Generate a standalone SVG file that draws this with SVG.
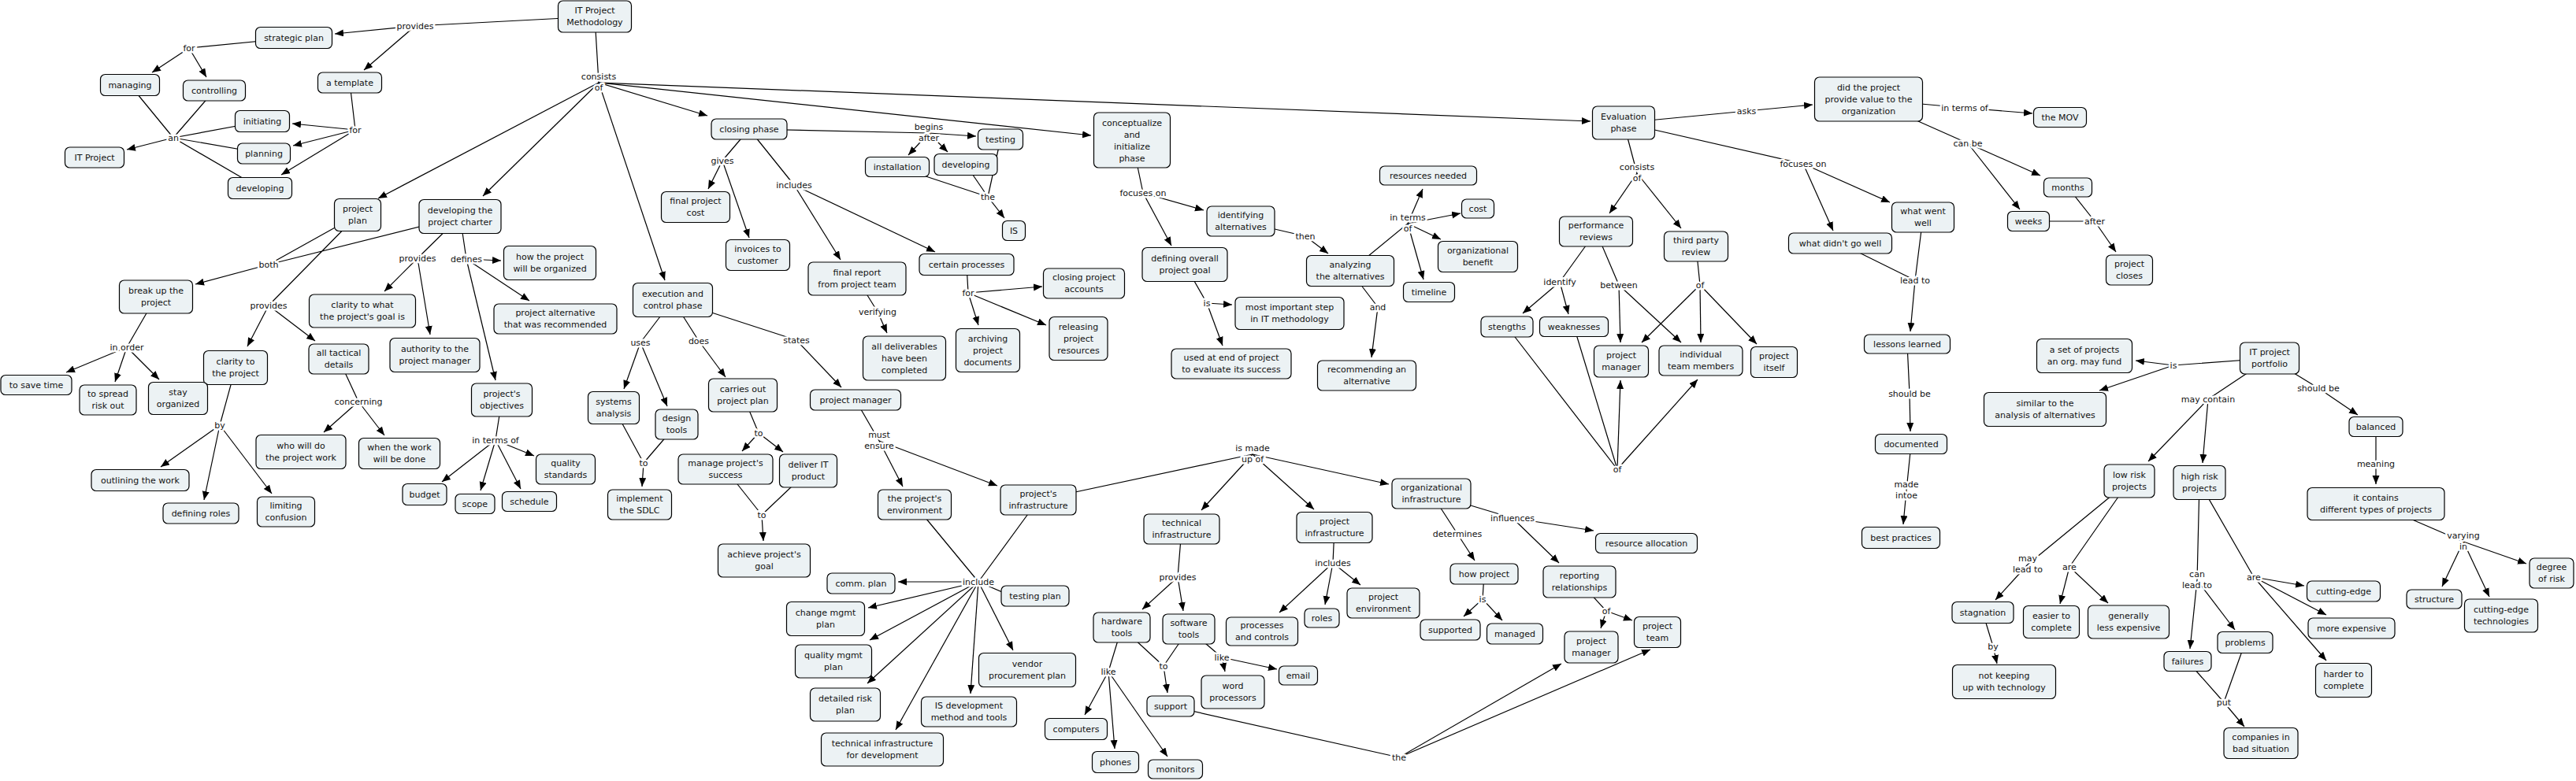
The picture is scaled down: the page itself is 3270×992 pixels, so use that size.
<svg xmlns="http://www.w3.org/2000/svg" width="3270" height="992" viewBox="0 0 3270 992">
<style>
.c{stroke:#000;stroke-width:1.2;fill:none}
.a{stroke:#000;stroke-width:1.2;fill:none;marker-end:url(#ar)}
.n rect{fill:#ecf2f4;stroke:#000;stroke-width:1.2}
text{font-family:"DejaVu Sans",Verdana,sans-serif;font-size:11px;fill:#111;text-anchor:middle}
.l text{stroke:#fff;stroke-width:5;paint-order:stroke;stroke-linejoin:round}
</style>
<defs><marker id="ar" markerUnits="userSpaceOnUse" markerWidth="12" markerHeight="10" refX="11" refY="4.5" orient="auto"><path d="M0,0 L11,4.5 L0,9 z" fill="#000"/></marker></defs>
<rect width="3270" height="992" fill="#fff"/>
<g id="connectors">
<path class="c" d="M755,21 L527,33 M373,48 L240,61 M444,105 L451,165 M165,108 L220,175 M272,115 L220,175 M333,154 L220,175 M335,195 L220,175 M330,239 L220,175 M755,21 L760,105 M454,273 L341,336 M584,275 L341,336 M454,273 L341,388 M584,275 L530,328 M584,275 L592,329 M198,377 L161,441 M299,467 L279,540 M430,456 L455,510 M637,508 L629,559 M854,381 L813,435 M854,381 L887,433 M854,381 L1011,432 M779,518 L817,588 M859,539 L817,588 M943,502 L963,550 M921,596 L967,654 M1026,598 L967,654 M1086,508 L1116,560 M1161,641 L1242,739 M1318,635 L1242,739 M1242,739 L1272,752 M1318,635 L1590,577 M1500,672 L1495,733 M1424,797 L1407,853 M1424,797 L1477,846 M1509,799 L1477,846 M1509,799 L1551,835 M1694,670 L1692,715 M1817,627 L1850,678 M1884,729 L1882,761 M1817,627 L1920,658 M2005,739 L2039,776 M1486,897 L1776,962 M951,164 L917,204 M951,164 L1008,235 M951,164 L1179,169 M1088,354 L1114,396 M1139,212 L1254,250 M1226,209 L1254,250 M1270,177 L1254,250 M1227,336 L1229,372 M1437,178 L1451,245 M1575,281 L1657,300 M1504,336 L1532,385 M1714,344 L1787,284 M1714,344 L1749,390 M2061,156 L2078,220 M2026,294 L1980,358 M2026,294 L2055,362 M2153,313 L2158,362 M1913,415 L2053,596 M1998,415 L2053,596 M2061,156 L2217,141 M2061,156 L2289,208 M2372,126 L2494,137 M2372,126 L2498,182 M2625,238 L2659,281 M2575,281 L2659,281 M2441,276 L2431,356 M2336,309 L2431,356 M2421,437 L2424,500 M2426,564 L2420,623 M2881,455 L2759,464 M2881,455 L2803,507 M2881,455 L2943,493 M3016,542 L3016,589 M3016,640 L3127,688 M2792,613 L2789,737 M2792,613 L2861,733 M2777,840 L2823,892 M2850,816 L2823,892 M2703,611 L2574,717 M2703,611 L2627,720 M2517,778 L2530,821"/>
<path class="a" d="M527,33 L425,43"/><path class="a" d="M527,33 L462,89"/>
<path class="a" d="M240,61 L193,92"/><path class="a" d="M240,61 L262,98"/>
<path class="a" d="M451,165 L371,157"/><path class="a" d="M451,165 L372,185"/><path class="a" d="M451,165 L357,222"/>
<path class="a" d="M220,175 L161,190"/>
<path class="a" d="M760,105 L480,252"/><path class="a" d="M760,105 L613,249"/><path class="a" d="M760,105 L844,356"/><path class="a" d="M760,105 L898,147"/><path class="a" d="M760,105 L1385,172"/><path class="a" d="M760,105 L2019,154"/>
<path class="a" d="M341,336 L248,361"/>
<path class="a" d="M341,388 L314,440"/><path class="a" d="M341,388 L400,433"/>
<path class="a" d="M530,328 L488,370"/><path class="a" d="M530,328 L546,425"/>
<path class="a" d="M592,329 L636,331"/><path class="a" d="M592,329 L672,382"/><path class="a" d="M592,329 L629,483"/>
<path class="a" d="M161,441 L84,473"/><path class="a" d="M161,441 L146,485"/><path class="a" d="M161,441 L202,482"/>
<path class="a" d="M279,540 L204,593"/><path class="a" d="M279,540 L259,635"/><path class="a" d="M279,540 L345,627"/>
<path class="a" d="M455,510 L411,549"/><path class="a" d="M455,510 L488,553"/>
<path class="a" d="M629,559 L561,612"/><path class="a" d="M629,559 L610,623"/><path class="a" d="M629,559 L661,621"/><path class="a" d="M629,559 L678,579"/>
<path class="a" d="M813,435 L792,494"/><path class="a" d="M813,435 L847,516"/>
<path class="a" d="M817,588 L815,618"/>
<path class="a" d="M887,433 L921,479"/>
<path class="a" d="M963,550 L942,573"/><path class="a" d="M963,550 L994,574"/>
<path class="a" d="M967,654 L969,687"/>
<path class="a" d="M1011,432 L1068,492"/>
<path class="a" d="M1116,560 L1146,618"/><path class="a" d="M1116,560 L1266,617"/>
<path class="a" d="M1242,739 L1140,739"/><path class="a" d="M1242,739 L1102,772"/><path class="a" d="M1242,739 L1104,813"/><path class="a" d="M1242,739 L1101,868"/><path class="a" d="M1242,739 L1137,927"/><path class="a" d="M1242,739 L1232,881"/><path class="a" d="M1242,739 L1286,826"/>
<path class="a" d="M1590,577 L1525,648"/><path class="a" d="M1590,577 L1668,647"/><path class="a" d="M1590,577 L1763,615"/>
<path class="a" d="M1495,733 L1450,774"/><path class="a" d="M1495,733 L1502,776"/>
<path class="a" d="M1407,853 L1377,908"/><path class="a" d="M1407,853 L1415,951"/><path class="a" d="M1407,853 L1482,961"/>
<path class="a" d="M1477,846 L1482,880"/>
<path class="a" d="M1551,835 L1555,853"/><path class="a" d="M1551,835 L1621,850"/>
<path class="a" d="M1692,715 L1624,778"/><path class="a" d="M1692,715 L1682,768"/><path class="a" d="M1692,715 L1727,743"/>
<path class="a" d="M1850,678 L1872,712"/>
<path class="a" d="M1882,761 L1858,783"/><path class="a" d="M1882,761 L1907,788"/>
<path class="a" d="M1920,658 L2023,674"/><path class="a" d="M1920,658 L1979,715"/>
<path class="a" d="M2039,776 L2032,798"/><path class="a" d="M2039,776 L2072,788"/>
<path class="a" d="M1776,962 L1982,843"/><path class="a" d="M1776,962 L2095,825"/>
<path class="a" d="M917,204 L899,240"/><path class="a" d="M917,204 L951,302"/>
<path class="a" d="M1008,235 L1067,330"/><path class="a" d="M1008,235 L1187,320"/>
<path class="a" d="M1114,396 L1126,423"/>
<path class="a" d="M1179,169 L1239,173"/><path class="a" d="M1179,169 L1153,197"/><path class="a" d="M1179,169 L1203,193"/>
<path class="a" d="M1254,250 L1275,277"/>
<path class="a" d="M1229,372 L1323,364"/><path class="a" d="M1229,372 L1242,413"/><path class="a" d="M1229,372 L1328,413"/>
<path class="a" d="M1451,245 L1528,267"/><path class="a" d="M1451,245 L1487,312"/>
<path class="a" d="M1657,300 L1686,322"/>
<path class="a" d="M1532,385 L1564,387"/><path class="a" d="M1532,385 L1552,439"/>
<path class="a" d="M1787,284 L1806,240"/><path class="a" d="M1787,284 L1854,271"/><path class="a" d="M1787,284 L1829,304"/><path class="a" d="M1787,284 L1807,355"/>
<path class="a" d="M1749,390 L1741,454"/>
<path class="a" d="M2078,220 L2043,271"/><path class="a" d="M2078,220 L2134,290"/>
<path class="a" d="M1980,358 L1933,398"/><path class="a" d="M1980,358 L1991,399"/>
<path class="a" d="M2055,362 L2057,435"/><path class="a" d="M2055,362 L2134,435"/>
<path class="a" d="M2158,362 L2084,435"/><path class="a" d="M2158,362 L2159,435"/><path class="a" d="M2158,362 L2230,437"/>
<path class="a" d="M2053,596 L2057,483"/><path class="a" d="M2053,596 L2155,482"/>
<path class="a" d="M2217,141 L2301,133"/>
<path class="a" d="M2494,137 L2580,144"/>
<path class="a" d="M2498,182 L2590,223"/><path class="a" d="M2498,182 L2564,266"/>
<path class="a" d="M2659,281 L2686,320"/>
<path class="a" d="M2289,208 L2399,257"/><path class="a" d="M2289,208 L2327,293"/>
<path class="a" d="M2431,356 L2425,421"/>
<path class="a" d="M2424,500 L2425,548"/>
<path class="a" d="M2420,623 L2416,666"/>
<path class="a" d="M2759,464 L2711,458"/><path class="a" d="M2759,464 L2665,496"/>
<path class="a" d="M2803,507 L2727,586"/><path class="a" d="M2803,507 L2796,588"/>
<path class="a" d="M2943,493 L2993,527"/>
<path class="a" d="M3016,589 L3016,615"/>
<path class="a" d="M3127,688 L3207,716"/><path class="a" d="M3127,688 L3100,745"/><path class="a" d="M3127,688 L3160,758"/>
<path class="a" d="M2789,737 L2780,824"/><path class="a" d="M2789,737 L2837,800"/>
<path class="a" d="M2861,733 L2925,744"/><path class="a" d="M2861,733 L2953,781"/><path class="a" d="M2861,733 L2953,839"/>
<path class="a" d="M2823,892 L2849,923"/>
<path class="a" d="M2574,717 L2533,762"/>
<path class="a" d="M2627,720 L2615,767"/><path class="a" d="M2627,720 L2676,766"/>
<path class="a" d="M2530,821 L2535,843"/>
</g>
<g class="l">
<text x="527" y="37">provides</text><text x="240" y="65">for</text><text x="451" y="169">for</text><text x="220" y="179">an</text>
<text x="760" y="101">consists<tspan x="760" dy="14">of</tspan></text>
<text x="341" y="340">both</text><text x="341" y="392">provides</text><text x="530" y="332">provides</text><text x="592" y="333">defines</text>
<text x="161" y="445">in order</text><text x="279" y="544">by</text><text x="455" y="514">concerning</text><text x="629" y="563">in terms of</text>
<text x="813" y="439">uses</text><text x="887" y="437">does</text><text x="1011" y="436">states</text><text x="817" y="592">to</text><text x="963" y="554">to</text><text x="967" y="658">to</text>
<text x="1116" y="556">must<tspan x="1116" dy="14">ensure</tspan></text>
<text x="1242" y="743">include</text>
<text x="1590" y="573">is made<tspan x="1590" dy="14">up of</tspan></text>
<text x="1495" y="737">provides</text><text x="1407" y="857">like</text><text x="1477" y="850">to</text><text x="1551" y="839">like</text>
<text x="1692" y="719">includes</text><text x="1850" y="682">determines</text><text x="1882" y="765">is</text><text x="1920" y="662">influences</text><text x="2039" y="780">of</text><text x="1776" y="966">the</text>
<text x="917" y="208">gives</text><text x="1008" y="239">includes</text>
<text x="1179" y="165">begins<tspan x="1179" dy="14">after</tspan></text>
<text x="1114" y="400">verifying</text><text x="1254" y="254">the</text><text x="1229" y="376">for</text>
<text x="1451" y="249">focuses on</text><text x="1657" y="304">then</text><text x="1532" y="389">is</text>
<text x="1787" y="280">in terms<tspan x="1787" dy="14">of</tspan></text>
<text x="1749" y="394">and</text>
<text x="2078" y="216">consists<tspan x="2078" dy="14">of</tspan></text>
<text x="1980" y="362">identify</text><text x="2055" y="366">between</text><text x="2158" y="366">of</text><text x="2053" y="600">of</text>
<text x="2217" y="145">asks</text><text x="2494" y="141">in terms of</text><text x="2498" y="186">can be</text><text x="2659" y="285">after</text>
<text x="2289" y="212">focuses on</text><text x="2431" y="360">lead to</text><text x="2424" y="504">should be</text>
<text x="2420" y="619">made<tspan x="2420" dy="14">intoe</tspan></text>
<text x="2759" y="468">is</text><text x="2803" y="511">may contain</text><text x="2943" y="497">should be</text><text x="3016" y="593">meaning</text>
<text x="3127" y="684">varying<tspan x="3127" dy="14">in</tspan></text>
<text x="2789" y="733">can<tspan x="2789" dy="14">lead to</tspan></text>
<text x="2861" y="737">are</text><text x="2823" y="896">put</text>
<text x="2574" y="713">may<tspan x="2574" dy="14">lead to</tspan></text>
<text x="2627" y="724">are</text><text x="2530" y="825">by</text>
</g>
<g class="n">
<g id="strategic"><rect x="324.5" y="34.5" width="97" height="27" rx="6"/><text x="373" y="52">strategic plan</text></g>
<g id="template"><rect x="403.5" y="92" width="81" height="26" rx="6"/><text x="444" y="109">a template</text></g>
<g id="managing"><rect x="127.5" y="94.5" width="75" height="27" rx="6"/><text x="165" y="112">managing</text></g>
<g id="controlling"><rect x="232.5" y="102" width="79" height="26" rx="6"/><text x="272" y="119">controlling</text></g>
<g id="initiating"><rect x="298.5" y="140.5" width="69" height="27" rx="6"/><text x="333" y="158">initiating</text></g>
<g id="planning"><rect x="301.5" y="182" width="67" height="26" rx="6"/><text x="335" y="199">planning</text></g>
<g id="developing1"><rect x="289.5" y="225.5" width="81" height="27" rx="6"/><text x="330" y="243">developing</text></g>
<g id="itproject"><rect x="82.5" y="187" width="75" height="26" rx="6"/><text x="120" y="204">IT Project</text></g>
<g id="itpm"><rect x="708.5" y="1" width="93" height="40" rx="6"/><text x="755" y="17">IT Project<tspan x="755" dy="15">Methodology</tspan></text></g>
<g id="pplan"><rect x="424.5" y="252.5" width="59" height="41" rx="6"/><text x="454" y="269">project<tspan x="454" dy="15">plan</tspan></text></g>
<g id="charter"><rect x="532" y="253.5" width="104" height="43" rx="6"/><text x="584" y="271">developing the<tspan x="584" dy="15">project charter</tspan></text></g>
<g id="breakup"><rect x="151.5" y="356" width="93" height="42" rx="6"/><text x="198" y="373">break up the<tspan x="198" dy="15">project</tspan></text></g>
<g id="clarityproj"><rect x="258.5" y="445.5" width="81" height="43" rx="6"/><text x="299" y="463">clarity to<tspan x="299" dy="15">the project</tspan></text></g>
<g id="tactical"><rect x="392" y="437" width="76" height="38" rx="6"/><text x="430" y="452">all tactical<tspan x="430" dy="15">details</tspan></text></g>
<g id="claritygoal"><rect x="392.5" y="374" width="135" height="42" rx="6"/><text x="460" y="391">clarity to what<tspan x="460" dy="15">the project's goal is</tspan></text></g>
<g id="authority"><rect x="495" y="429.5" width="114" height="43" rx="6"/><text x="552" y="447">authority to the<tspan x="552" dy="15">project manager</tspan></text></g>
<g id="savetime"><rect x="1" y="476.5" width="90" height="25" rx="6"/><text x="46" y="493">to save time</text></g>
<g id="spread"><rect x="101" y="489" width="72" height="38" rx="6"/><text x="137" y="504">to spread<tspan x="137" dy="15">risk out</tspan></text></g>
<g id="stay"><rect x="188.5" y="485.5" width="75" height="41" rx="6"/><text x="226" y="502">stay<tspan x="226" dy="15">organized</tspan></text></g>
<g id="whowill"><rect x="325" y="552.5" width="114" height="43" rx="6"/><text x="382" y="570">who will do<tspan x="382" dy="15">the project work</tspan></text></g>
<g id="whenwork"><rect x="455.5" y="556.5" width="103" height="39" rx="6"/><text x="507" y="572">when the work<tspan x="507" dy="15">will be done</tspan></text></g>
<g id="outlining"><rect x="116" y="596.5" width="124" height="27" rx="6"/><text x="178" y="614">outlining the work</text></g>
<g id="defroles"><rect x="207" y="639" width="96" height="26" rx="6"/><text x="255" y="656">defining roles</text></g>
<g id="limiting"><rect x="326.5" y="631" width="73" height="38" rx="6"/><text x="363" y="646">limiting<tspan x="363" dy="15">confusion</tspan></text></g>
<g id="budget"><rect x="511" y="614.5" width="56" height="27" rx="6"/><text x="539" y="632">budget</text></g>
<g id="howorg"><rect x="639.5" y="312.5" width="117" height="43" rx="6"/><text x="698" y="330">how the project<tspan x="698" dy="15">will be organized</tspan></text></g>
<g id="projalt"><rect x="627" y="386" width="156" height="38" rx="6"/><text x="705" y="401">project alternative<tspan x="705" dy="15">that was recommended</tspan></text></g>
<g id="objectives"><rect x="598.5" y="487" width="77" height="42" rx="6"/><text x="637" y="504">project's<tspan x="637" dy="15">objectives</tspan></text></g>
<g id="scope"><rect x="578" y="627.5" width="50" height="25" rx="6"/><text x="603" y="644">scope</text></g>
<g id="schedule"><rect x="637.5" y="624.5" width="69" height="25" rx="6"/><text x="672" y="641">schedule</text></g>
<g id="quality"><rect x="680.5" y="577" width="75" height="38" rx="6"/><text x="718" y="592">quality<tspan x="718" dy="15">standards</tspan></text></g>
<g id="closing"><rect x="903" y="151" width="96" height="26" rx="6"/><text x="951" y="168">closing phase</text></g>
<g id="finalcost"><rect x="839.5" y="243.5" width="87" height="39" rx="6"/><text x="883" y="259">final project<tspan x="883" dy="15">cost</tspan></text></g>
<g id="invoices"><rect x="921.5" y="304.5" width="81" height="39" rx="6"/><text x="962" y="320">invoices to<tspan x="962" dy="15">customer</tspan></text></g>
<g id="exec"><rect x="803.5" y="359.5" width="101" height="43" rx="6"/><text x="854" y="377">execution and<tspan x="854" dy="15">control phase</tspan></text></g>
<g id="sysanal"><rect x="746.5" y="497.5" width="65" height="41" rx="6"/><text x="779" y="514">systems<tspan x="779" dy="15">analysis</tspan></text></g>
<g id="design"><rect x="832" y="520" width="54" height="38" rx="6"/><text x="859" y="535">design<tspan x="859" dy="15">tools</tspan></text></g>
<g id="sdlc"><rect x="771.5" y="622" width="81" height="38" rx="6"/><text x="812" y="637">implement<tspan x="812" dy="15">the SDLC</tspan></text></g>
<g id="carries"><rect x="899.5" y="481" width="87" height="42" rx="6"/><text x="943" y="498">carries out<tspan x="943" dy="15">project plan</tspan></text></g>
<g id="manage"><rect x="861" y="577" width="120" height="38" rx="6"/><text x="921" y="592">manage project's<tspan x="921" dy="15">success</tspan></text></g>
<g id="deliver"><rect x="989.5" y="577" width="73" height="42" rx="6"/><text x="1026" y="594">deliver IT<tspan x="1026" dy="15">product</tspan></text></g>
<g id="achieve"><rect x="911.5" y="691" width="117" height="42" rx="6"/><text x="970" y="708">achieve project's<tspan x="970" dy="15">goal</tspan></text></g>
<g id="pm1"><rect x="1028.5" y="495" width="115" height="26" rx="6"/><text x="1086" y="512">project manager</text></g>
<g id="finalrep"><rect x="1026" y="333" width="124" height="42" rx="6"/><text x="1088" y="350">final report<tspan x="1088" dy="15">from project team</tspan></text></g>
<g id="alldeliv"><rect x="1095.5" y="427" width="105" height="56" rx="6"/><text x="1148" y="444">all deliverables<tspan x="1148" dy="15">have been</tspan><tspan x="1148" dy="15">completed</tspan></text></g>
<g id="testing"><rect x="1241.5" y="164" width="57" height="26" rx="6"/><text x="1270" y="181">testing</text></g>
<g id="install"><rect x="1098.5" y="199.5" width="81" height="25" rx="6"/><text x="1139" y="216">installation</text></g>
<g id="developing2"><rect x="1186" y="195.5" width="80" height="27" rx="6"/><text x="1226" y="213">developing</text></g>
<g id="is"><rect x="1272.5" y="280.5" width="29" height="25" rx="6"/><text x="1287" y="297">IS</text></g>
<g id="certain"><rect x="1167" y="322.5" width="120" height="27" rx="6"/><text x="1227" y="340">certain processes</text></g>
<g id="closacc"><rect x="1324.5" y="341" width="103" height="38" rx="6"/><text x="1376" y="356">closing project<tspan x="1376" dy="15">accounts</tspan></text></g>
<g id="archiving"><rect x="1213.5" y="417.5" width="81" height="55" rx="6"/><text x="1254" y="434">archiving<tspan x="1254" dy="15">project</tspan><tspan x="1254" dy="15">documents</tspan></text></g>
<g id="releasing"><rect x="1332" y="402.5" width="74" height="55" rx="6"/><text x="1369" y="419">releasing<tspan x="1369" dy="15">project</tspan><tspan x="1369" dy="15">resources</tspan></text></g>
<g id="concept"><rect x="1388.5" y="143" width="97" height="70" rx="6"/><text x="1437" y="159.5">conceptualize<tspan x="1437" dy="15">and</tspan><tspan x="1437" dy="15">initialize</tspan><tspan x="1437" dy="15">phase</tspan></text></g>
<g id="identify"><rect x="1532" y="262" width="86" height="38" rx="6"/><text x="1575" y="277">identifying<tspan x="1575" dy="15">alternatives</tspan></text></g>
<g id="defgoal"><rect x="1450" y="314.5" width="108" height="43" rx="6"/><text x="1504" y="332">defining overall<tspan x="1504" dy="15">project goal</tspan></text></g>
<g id="mostimp"><rect x="1568" y="377.5" width="138" height="41" rx="6"/><text x="1637" y="394">most important step<tspan x="1637" dy="15">in IT methodology</tspan></text></g>
<g id="usedend"><rect x="1487" y="443" width="152" height="38" rx="6"/><text x="1563" y="458">used at end of project<tspan x="1563" dy="15">to evaluate its success</tspan></text></g>
<g id="analyzing"><rect x="1658.5" y="324.5" width="111" height="39" rx="6"/><text x="1714" y="340">analyzing<tspan x="1714" dy="15">the alternatives</tspan></text></g>
<g id="resources"><rect x="1751.5" y="211" width="123" height="24" rx="6"/><text x="1813" y="227">resources needed</text></g>
<g id="cost"><rect x="1855.5" y="253" width="41" height="24" rx="6"/><text x="1876" y="269">cost</text></g>
<g id="orgben"><rect x="1825.5" y="306.5" width="101" height="39" rx="6"/><text x="1876" y="322">organizational<tspan x="1876" dy="15">benefit</tspan></text></g>
<g id="timeline"><rect x="1781.5" y="358.5" width="65" height="25" rx="6"/><text x="1814" y="375">timeline</text></g>
<g id="recommend"><rect x="1672.5" y="458" width="125" height="38" rx="6"/><text x="1735" y="473">recommending an<tspan x="1735" dy="15">alternative</tspan></text></g>
<g id="eval"><rect x="2021.5" y="135" width="79" height="42" rx="6"/><text x="2061" y="152">Evaluation<tspan x="2061" dy="15">phase</tspan></text></g>
<g id="perf"><rect x="1979.5" y="275" width="93" height="38" rx="6"/><text x="2026" y="290">performance<tspan x="2026" dy="15">reviews</tspan></text></g>
<g id="third"><rect x="2112.5" y="294" width="81" height="38" rx="6"/><text x="2153" y="309">third party<tspan x="2153" dy="15">review</tspan></text></g>
<g id="stengths"><rect x="1880" y="402" width="66" height="26" rx="6"/><text x="1913" y="419">stengths</text></g>
<g id="weak"><rect x="1954.5" y="402.5" width="87" height="25" rx="6"/><text x="1998" y="419">weaknesses</text></g>
<g id="pm2"><rect x="2023.5" y="439" width="69" height="40" rx="6"/><text x="2058" y="455">project<tspan x="2058" dy="15">manager</tspan></text></g>
<g id="indiv"><rect x="2106" y="439" width="106" height="38" rx="6"/><text x="2159" y="454">individual<tspan x="2159" dy="15">team members</tspan></text></g>
<g id="itself"><rect x="2222.5" y="440.5" width="59" height="39" rx="6"/><text x="2252" y="456">project<tspan x="2252" dy="15">itself</tspan></text></g>
<g id="did"><rect x="2303.5" y="98" width="137" height="56" rx="6"/><text x="2372" y="115">did the project<tspan x="2372" dy="15">provide value to the</tspan><tspan x="2372" dy="15">organization</tspan></text></g>
<g id="mov"><rect x="2581.5" y="136.5" width="67" height="25" rx="6"/><text x="2615" y="153">the MOV</text></g>
<g id="months"><rect x="2594.5" y="226" width="61" height="24" rx="6"/><text x="2625" y="242">months</text></g>
<g id="weeks"><rect x="2548.5" y="268.5" width="53" height="25" rx="6"/><text x="2575" y="285">weeks</text></g>
<g id="closes"><rect x="2673.5" y="324" width="59" height="38" rx="6"/><text x="2703" y="339">project<tspan x="2703" dy="15">closes</tspan></text></g>
<g id="wentwell"><rect x="2401.5" y="257" width="79" height="38" rx="6"/><text x="2441" y="272">what went<tspan x="2441" dy="15">well</tspan></text></g>
<g id="didnt"><rect x="2270.5" y="296" width="131" height="26" rx="6"/><text x="2336" y="313">what didn't go well</text></g>
<g id="lessons"><rect x="2366.5" y="425" width="109" height="24" rx="6"/><text x="2421" y="441">lessons learned</text></g>
<g id="setproj"><rect x="2585.5" y="430.5" width="121" height="43" rx="6"/><text x="2646" y="448">a set of projects<tspan x="2646" dy="15">an org. may fund</tspan></text></g>
<g id="documented"><rect x="2380.5" y="551.5" width="91" height="25" rx="6"/><text x="2426" y="568">documented</text></g>
<g id="best"><rect x="2363.5" y="669.5" width="99" height="27" rx="6"/><text x="2413" y="687">best practices</text></g>
<g id="portfolio"><rect x="2843.5" y="435" width="75" height="40" rx="6"/><text x="2881" y="451">IT project<tspan x="2881" dy="15">portfolio</tspan></text></g>
<g id="similar"><rect x="2518.5" y="498.5" width="155" height="43" rx="6"/><text x="2596" y="516">similar to the<tspan x="2596" dy="15">analysis of alternatives</tspan></text></g>
<g id="balanced"><rect x="2982" y="529.5" width="68" height="25" rx="6"/><text x="3016" y="546">balanced</text></g>
<g id="contains"><rect x="2929" y="619.5" width="174" height="41" rx="6"/><text x="3016" y="636">it contains<tspan x="3016" dy="15">different types of projects</tspan></text></g>
<g id="degree"><rect x="3211" y="709" width="56" height="38" rx="6"/><text x="3239" y="724">degree<tspan x="3239" dy="15">of risk</tspan></text></g>
<g id="structure"><rect x="3055" y="749" width="70" height="24" rx="6"/><text x="3090" y="765">structure</text></g>
<g id="cutedgetech"><rect x="3128.5" y="761" width="93" height="42" rx="6"/><text x="3175" y="778">cutting-edge<tspan x="3175" dy="15">technologies</tspan></text></g>
<g id="highrisk"><rect x="2759" y="591.5" width="66" height="43" rx="6"/><text x="2792" y="609">high risk<tspan x="2792" dy="15">projects</tspan></text></g>
<g id="lowrisk"><rect x="2671" y="590" width="64" height="42" rx="6"/><text x="2703" y="607">low risk<tspan x="2703" dy="15">projects</tspan></text></g>
<g id="cutedge"><rect x="2928.5" y="738" width="93" height="26" rx="6"/><text x="2975" y="755">cutting-edge</text></g>
<g id="moreexp"><rect x="2930" y="785" width="110" height="26" rx="6"/><text x="2985" y="802">more expensive</text></g>
<g id="harder"><rect x="2939.5" y="842.5" width="71" height="43" rx="6"/><text x="2975" y="860">harder to<tspan x="2975" dy="15">complete</tspan></text></g>
<g id="problems"><rect x="2815" y="802.5" width="70" height="27" rx="6"/><text x="2850" y="820">problems</text></g>
<g id="failures"><rect x="2747" y="827.5" width="60" height="25" rx="6"/><text x="2777" y="844">failures</text></g>
<g id="companies"><rect x="2823" y="924.5" width="94" height="39" rx="6"/><text x="2870" y="940">companies in<tspan x="2870" dy="15">bad situation</tspan></text></g>
<g id="lessexp"><rect x="2650.5" y="769" width="103" height="42" rx="6"/><text x="2702" y="786">generally<tspan x="2702" dy="15">less expensive</tspan></text></g>
<g id="stagnation"><rect x="2478" y="764.5" width="78" height="27" rx="6"/><text x="2517" y="782">stagnation</text></g>
<g id="easier"><rect x="2568.5" y="769.5" width="71" height="41" rx="6"/><text x="2604" y="786">easier to<tspan x="2604" dy="15">complete</tspan></text></g>
<g id="notkeeping"><rect x="2478.5" y="844.5" width="131" height="43" rx="6"/><text x="2544" y="862">not keeping<tspan x="2544" dy="15">up with technology</tspan></text></g>
<g id="commplan"><rect x="1050" y="728" width="86" height="26" rx="6"/><text x="1093" y="745">comm. plan</text></g>
<g id="changemgmt"><rect x="998.5" y="764.5" width="99" height="43" rx="6"/><text x="1048" y="782">change mgmt<tspan x="1048" dy="15">plan</tspan></text></g>
<g id="qualmgmt"><rect x="1009.5" y="819" width="97" height="42" rx="6"/><text x="1058" y="836">quality mgmt<tspan x="1058" dy="15">plan</tspan></text></g>
<g id="riskplan"><rect x="1028.5" y="874" width="89" height="42" rx="6"/><text x="1073" y="891">detailed risk<tspan x="1073" dy="15">plan</tspan></text></g>
<g id="techdev"><rect x="1042.5" y="931" width="155" height="42" rx="6"/><text x="1120" y="948">technical infrastructure<tspan x="1120" dy="15">for development</tspan></text></g>
<g id="projenv"><rect x="1114.5" y="622" width="93" height="38" rx="6"/><text x="1161" y="637">the project's<tspan x="1161" dy="15">environment</tspan></text></g>
<g id="projinfra"><rect x="1270" y="616" width="96" height="38" rx="6"/><text x="1318" y="631">project's<tspan x="1318" dy="15">infrastructure</tspan></text></g>
<g id="testplan"><rect x="1271" y="744" width="86" height="26" rx="6"/><text x="1314" y="761">testing plan</text></g>
<g id="vendor"><rect x="1242.5" y="829.5" width="123" height="43" rx="6"/><text x="1304" y="847">vendor<tspan x="1304" dy="15">procurement plan</tspan></text></g>
<g id="isdev"><rect x="1169.5" y="885" width="121" height="38" rx="6"/><text x="1230" y="900">IS development<tspan x="1230" dy="15">method and tools</tspan></text></g>
<g id="techinfra"><rect x="1452" y="653" width="96" height="38" rx="6"/><text x="1500" y="668">technical<tspan x="1500" dy="15">infrastructure</tspan></text></g>
<g id="hardware"><rect x="1388" y="778" width="72" height="38" rx="6"/><text x="1424" y="793">hardware<tspan x="1424" dy="15">tools</tspan></text></g>
<g id="software"><rect x="1476" y="780" width="66" height="38" rx="6"/><text x="1509" y="795">software<tspan x="1509" dy="15">tools</tspan></text></g>
<g id="processes"><rect x="1556.5" y="784" width="91" height="36" rx="6"/><text x="1602" y="798">processes<tspan x="1602" dy="15">and controls</tspan></text></g>
<g id="support"><rect x="1456" y="884" width="60" height="26" rx="6"/><text x="1486" y="901">support</text></g>
<g id="wordproc"><rect x="1525" y="858" width="80" height="42" rx="6"/><text x="1565" y="875">word<tspan x="1565" dy="15">processors</tspan></text></g>
<g id="email"><rect x="1623.5" y="846" width="49" height="24" rx="6"/><text x="1648" y="862">email</text></g>
<g id="computers"><rect x="1326.5" y="912.5" width="79" height="27" rx="6"/><text x="1366" y="930">computers</text></g>
<g id="phones"><rect x="1386.5" y="954.5" width="59" height="27" rx="6"/><text x="1416" y="972">phones</text></g>
<g id="monitors"><rect x="1457.5" y="965" width="69" height="24" rx="6"/><text x="1492" y="981">monitors</text></g>
<g id="orginfra"><rect x="1767" y="608" width="100" height="38" rx="6"/><text x="1817" y="623">organizational<tspan x="1817" dy="15">infrastructure</tspan></text></g>
<g id="pinfra"><rect x="1646" y="650.5" width="96" height="39" rx="6"/><text x="1694" y="666">project<tspan x="1694" dy="15">infrastructure</tspan></text></g>
<g id="roles"><rect x="1656" y="773" width="44" height="24" rx="6"/><text x="1678" y="789">roles</text></g>
<g id="penv"><rect x="1710" y="747" width="92" height="38" rx="6"/><text x="1756" y="762">project<tspan x="1756" dy="15">environment</tspan></text></g>
<g id="resalloc"><rect x="2025.5" y="677.5" width="129" height="25" rx="6"/><text x="2090" y="694">resource allocation</text></g>
<g id="howproj"><rect x="1841" y="716" width="86" height="26" rx="6"/><text x="1884" y="733">how project</text></g>
<g id="supported"><rect x="1803" y="787" width="76" height="26" rx="6"/><text x="1841" y="804">supported</text></g>
<g id="managed"><rect x="1887.5" y="792" width="71" height="26" rx="6"/><text x="1923" y="809">managed</text></g>
<g id="reporting"><rect x="1959" y="719" width="92" height="40" rx="6"/><text x="2005" y="735">reporting<tspan x="2005" dy="15">relationships</tspan></text></g>
<g id="pm4"><rect x="1986" y="802" width="68" height="40" rx="6"/><text x="2020" y="818">project<tspan x="2020" dy="15">manager</tspan></text></g>
<g id="pteam"><rect x="2074.5" y="783.5" width="59" height="39" rx="6"/><text x="2104" y="799">project<tspan x="2104" dy="15">team</tspan></text></g>
</g>
</svg>
